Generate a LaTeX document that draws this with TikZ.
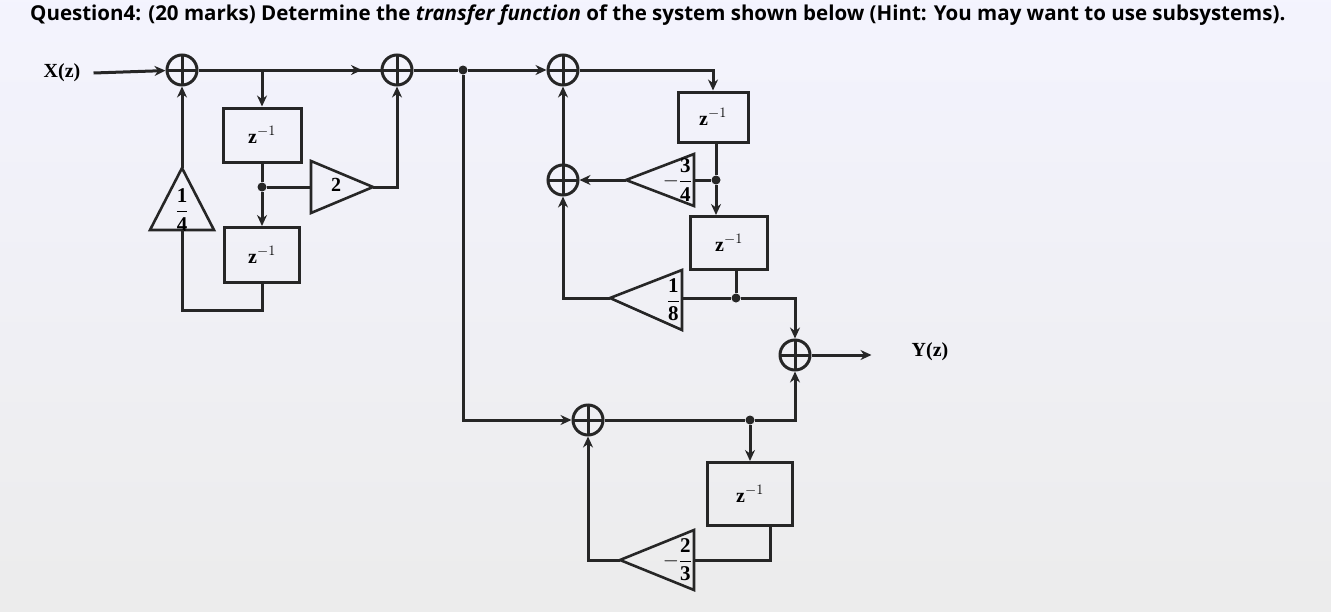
\documentclass[tikz,border=0pt]{standalone}
\usepackage{fontspec}
\setmainfont{Liberation Serif}
\newfontfamily\titlefont{Open Sans}
\usetikzlibrary{arrows.meta}
\tikzset{
 ln/.style={line width=3pt,draw=black!85},
 ar/.style={ln,-{Stealth[length=11pt,width=10pt]}},
 sum/.style={circle,draw=black!85,line width=3pt,minimum size=30pt,inner sep=0pt,
   path picture={\draw[line width=3pt,black!85] (path picture bounding box.north) -- (path picture bounding box.south) (path picture bounding box.west) -- (path picture bounding box.east);}},
 dly/.style={draw=black!85,line width=3pt,inner sep=0pt,font=\fontsize{20}{22}\selectfont\bfseries},
 trip/.style={draw=black!85,line width=2.6pt,line join=miter},
 dot/.style={circle,fill=black!85,inner sep=0pt,minimum size=9pt},
 lab/.style={font=\fontsize{20}{22}\selectfont\bfseries,inner sep=1pt},
 frac/.style={font=\fontsize{21}{23}\selectfont\bfseries,inner sep=0pt}
}
\begin{document}
\begin{tikzpicture}[x=1pt,y=-1pt]
\shade[top color=gray!20!blue!5,bottom color=gray!15] (0,0) rectangle (1331,611);
\useasboundingbox (0,0) rectangle (1331,611);
\node[anchor=west,inner sep=0pt] (title) at (30,15) {\resizebox{1255pt}{!}{\titlefont\bfseries Question4: (20 marks) Determine the \textit{transfer function} of the system shown below (Hint: You may want to use subsystems).}};
% left block
\node[lab] (x) at (62,73) {X(z)};
\node[sum] (s1) at (182,70) {};
\node[sum] (s2) at (397,70) {};
\coordinate (b1) at (262,70);
\node[dly,minimum width=78pt,minimum height=54pt] (d1) at (262,135) {z$^{-1}$};
\node[dot] (j1) at (262,187) {};
\node[dly,minimum width=75pt,minimum height=55pt] (d2) at (262,255) {z$^{-1}$};
% 1/4 triangle (pointing up)
\coordinate (g14t) at (182,168); \coordinate (g14b) at (182,230);
\draw[trip] (g14t) -- (214,230) -- (150,230) -- cycle;
\node[frac] at (182,210) {$\displaystyle\mathbf{\frac{1}{4}}$};
% 2 triangle (pointing right)
\coordinate (g2i) at (311,187); \coordinate (g2o) at (373,187);
\draw[trip] (311,161) -- (g2o) -- (311,213) -- cycle;
\node[lab] at (336,185) {2};
\draw[ar] (x.east)++(12,0) -- (s1);
\draw[ln] (s1) -- (b1) -- (s2.west) ;
\draw[ar] (b1) -- ++(100,0);
\draw[ar] (b1) -- (d1.north);
\draw[ln] (d1.south) -- (j1);
\draw[ar] (j1) -- (d2.north);
\draw[ln] (j1) -- (g2i);
\draw[ar] (g2o) -| (s2.south);
\draw[ln] (d2.south) -- (262,310) -| (g14b);
\draw[ar] (g14t) -- (s1.south);
% middle block
\node[dot] (j2) at (463,70) {};
\node[sum] (s3) at (563,70) {};
\node[dly,minimum width=70pt,minimum height=50pt] (d3) at (713,117) {z$^{-1}$};
\node[dot] (j3) at (716,180) {};
\node[dly,minimum width=77pt,minimum height=53pt] (d4) at (729,243) {z$^{-1}$};
\node[sum] (s4) at (563,180) {};
\coordinate (g34i) at (694,180); \coordinate (g34o) at (626,180);
\draw[trip] (694,154) -- (g34o) -- (694,206) -- cycle;
\node[frac,anchor=east] at (692,180) {$\displaystyle\mathbf{-\frac{3}{4}}$};
\node[dot] (j4) at (736,298) {};
\coordinate (g18i) at (682,298); \coordinate (g18o) at (610,298);
\draw[trip] (682,270) -- (g18o) -- (682,330) -- cycle;
\node[frac,anchor=east] at (680,300) {$\displaystyle\mathbf{\frac{1}{8}}$};
\node[sum] (s6) at (795,355) {};
\node[lab] (y) at (930,352) {Y(z)};
\draw[ln] (s2.east) -- (j2);
\draw[ar] (j2) -- (s3.west);
\draw[ar] (s3.east) -| (d3.north);
\draw[ln] (j3 |- d3.south) -- (j3);
\draw[ar] (j3) -- (j3 |- d4.north);
\draw[ln] (j3) -- (g34i);
\draw[ar] (g34o) -- (s4.east);
\draw[ar] (s4.north) -- (s3.south);
\draw[ln] (j4 |- d4.south) -- (j4);
\draw[ln] (j4) -- (g18i);
\draw[ar] (g18o) -| (s4.south);
\draw[ar] (j4) -| (s6.north);
\draw[ar] (s6.east) -- ++(60,0);
% bottom block
\node[sum] (s5) at (588,420) {};
\node[dot] (j5) at (750,420) {};
\node[dly,minimum width=85pt,minimum height=63pt] (d5) at (750,494) {z$^{-1}$};
\coordinate (g23i) at (694,560); \coordinate (g23o) at (620,560);
\draw[trip] (694,530) -- (g23o) -- (694,590) -- cycle;
\node[frac,anchor=east] at (692,560) {$\displaystyle\mathbf{-\frac{2}{3}}$};
\draw[ar] (j2) |- (s5.west);
\draw[ln] (s5.east) -- (j5);
\draw[ar] (j5) -| (s6.south);
\draw[ar] (j5) -- (d5.north);
\draw[ln] (d5.south) ++(20,0) |- (g23i);
\draw[ar] (g23o) -| (s5.south);
\end{tikzpicture}
\end{document}
